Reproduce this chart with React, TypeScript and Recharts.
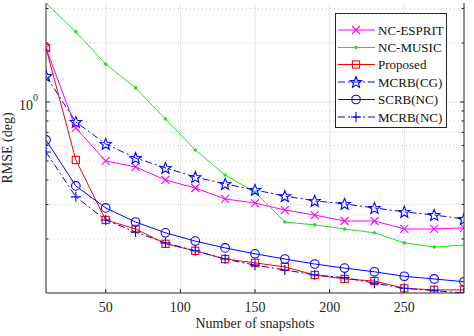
import React from "react";
import { LineChart, Line, XAxis, YAxis, CartesianGrid } from "recharts";

const snapshots = [10, 30, 50, 70, 90, 110, 130, 150, 170, 190, 210, 230, 250, 270, 290];
const ncEsprit = [1.886, 0.737, 0.5, 0.466, 0.4, 0.364, 0.32, 0.305, 0.281, 0.265, 0.247, 0.247, 0.225, 0.225, 0.228];
const ncMusic = [3.2, 2.28, 1.56, 1.18, 0.819, 0.569, 0.424, 0.347, 0.244, 0.236, 0.225, 0.215, 0.191, 0.182, 0.186];
const proposed = [1.886, 0.506, 0.25, 0.225, 0.189, 0.174, 0.158, 0.151, 0.144, 0.131, 0.125, 0.122, 0.112, 0.11, 0.11];
const mcrbCG = [1.357, 0.791, 0.611, 0.518, 0.461, 0.414, 0.382, 0.356, 0.331, 0.313, 0.302, 0.288, 0.275, 0.265, 0.253];
const scrbNC = [0.64, 0.373, 0.288, 0.244, 0.215, 0.195, 0.18, 0.168, 0.158, 0.149, 0.142, 0.136, 0.129, 0.125, 0.121];
const mcrbNC = [0.556, 0.328, 0.25, 0.217, 0.191, 0.174, 0.158, 0.147, 0.139, 0.131, 0.127, 0.119, 0.112, 0.109, 0.106];

const xTicks = [50, 100, 150, 200, 250];
const yMinorTicks = [0.2, 0.3, 0.4, 0.5, 0.6, 0.7, 0.8, 0.9, 2, 3];
const yMajorTicks = [1];
const yTicks = [0.2, 0.3, 0.4, 0.5, 0.6, 0.7, 0.8, 0.9, 1, 2, 3];
const yDomain = [0.106, 3.2];
const xDomain = [10, 290];

const seriesDefs = [
  { key: "esprit", name: "NC-ESPRIT", color: "#ff00ff", marker: "x", dash: undefined as string | undefined, values: ncEsprit },
  { key: "music", name: "NC-MUSIC", color: "#22e022", marker: "dot", dash: undefined, values: ncMusic },
  { key: "proposed", name: "Proposed", color: "#ff0000", marker: "square", dash: undefined, values: proposed },
  { key: "mcrbcg", name: "MCRB(CG)", color: "#0000ff", marker: "star", dash: "7 3 2 3", values: mcrbCG },
  { key: "scrbnc", name: "SCRB(NC)", color: "#0000ff", marker: "circle", dash: undefined, values: scrbNC },
  { key: "mcrbnc", name: "MCRB(NC)", color: "#0000ff", marker: "plus", dash: "7 3 2 3", values: mcrbNC },
];

const data = snapshots.map((n, i) => {
  const row: any = { n };
  seriesDefs.forEach((s) => (row[s.key] = s.values[i]));
  return row;
});

const FONT = "'Liberation Serif', 'Times New Roman', serif";
const AXIS = "#262626";

function starPath(cx: number, cy: number, R: number, r: number) {
  let d = "";
  for (let i = 0; i < 10; i++) {
    const rad = i % 2 === 0 ? R : r;
    const a = -Math.PI / 2 + (i * Math.PI) / 5;
    d += (i === 0 ? "M" : "L") + (cx + rad * Math.cos(a)).toFixed(2) + "," + (cy + rad * Math.sin(a)).toFixed(2);
  }
  return d + "Z";
}

function Marker({ type, cx, cy, color }: { type: string; cx: number; cy: number; color: string }) {
  if (cx == null || cy == null || isNaN(cx) || isNaN(cy)) return null;
  switch (type) {
    case "x":
      return <path d={`M${cx - 4},${cy - 4}L${cx + 4},${cy + 4}M${cx - 4},${cy + 4}L${cx + 4},${cy - 4}`} stroke={color} strokeWidth={1.1} fill="none" />;
    case "dot":
      return <circle cx={cx} cy={cy} r={1.8} fill={color} stroke="none" />;
    case "square":
      return <rect x={cx - 3.6} y={cy - 3.6} width={7.2} height={7.2} fill="none" stroke={color} strokeWidth={1.1} />;
    case "star":
      return <path d={starPath(cx, cy + 0.5, 6, 2.6)} fill="none" stroke={color} strokeWidth={1.1} />;
    case "circle":
      return <circle cx={cx} cy={cy} r={4.3} fill="none" stroke={color} strokeWidth={1.1} />;
    case "plus":
      return <path d={`M${cx - 5},${cy}L${cx + 5},${cy}M${cx},${cy - 5}L${cx},${cy + 5}`} stroke={color} strokeWidth={1.1} fill="none" />;
  }
  return null;
}

const makeDot = (type: string, color: string) => (props: any) => (
  <g key={`d-${type}-${props.index}`}>
    <Marker type={type} cx={props.cx} cy={props.cy} color={color} />
  </g>
);

const BottomTick = (props: any) => {
  const { x, y, payload } = props;
  return (
    <g>
      <line x1={x} x2={x} y1={y} y2={y - 4} stroke={AXIS} strokeWidth={1} />
      <text x={x} y={y + 19} textAnchor="middle" fontFamily={FONT} fontSize={14} fill="#262626">
        {payload.value}
      </text>
    </g>
  );
};

const TopTick = (props: any) => {
  const { x, y } = props;
  return <line x1={x} x2={x} y1={y} y2={y + 4} stroke={AXIS} strokeWidth={1} />;
};

const LeftTick = (props: any) => {
  const { x, y, payload } = props;
  const major = yMajorTicks.includes(payload.value);
  return (
    <g>
      <line x1={x} x2={x + (major ? 4 : 2.5)} y1={y} y2={y} stroke={AXIS} strokeWidth={1} />
      {major && (
        <text x={x - 13} y={y + 8} textAnchor="end" fontFamily={FONT} fontSize={14} fill="#262626">
          10
        </text>
      )}
      {major && (
        <text x={x - 13} y={y - 1} textAnchor="start" fontFamily={FONT} fontSize={10} fill="#262626">
          0
        </text>
      )}
    </g>
  );
};

const RightTick = (props: any) => {
  const { x, y, payload } = props;
  const major = yMajorTicks.includes(payload.value);
  return <line x1={x} x2={x - (major ? 4 : 2.5)} y1={y} y2={y} stroke={AXIS} strokeWidth={1} />;
};

function Legend() {
  const rows = [30, 47.5, 64.5, 82, 99.5, 117];
  return (
    <svg width={474} height={336} style={{ position: "absolute", left: 0, top: 0, pointerEvents: "none" }}>
      <rect x={335.5} y={13.5} width={111} height={114} fill="#ffffff" stroke={AXIS} strokeWidth={1} />
      {seriesDefs.map((s, i) => (
        <g key={s.key}>
          <line x1={338} x2={375} y1={rows[i]} y2={rows[i]} stroke={s.color} strokeWidth={1} strokeDasharray={s.dash} />
          <Marker type={s.marker} cx={356} cy={rows[i]} color={s.color} />
          <text x={378} y={rows[i]} dominantBaseline="central" fontFamily={FONT} fontSize={13} fill="#111">
            {s.name}
          </text>
        </g>
      ))}
    </svg>
  );
}

export default function App() {
  return (
    <div style={{ position: "absolute", left: 0, top: 0, width: 474, height: 336, background: "#fff" }}>
      <LineChart width={474} height={336} data={data} margin={{ top: 3, right: 0, bottom: 0, left: 0 }}>
        <CartesianGrid horizontalValues={yMinorTicks} vertical={false} stroke="#c8c8c8" strokeDasharray="1 3" />
        <CartesianGrid horizontalValues={yMajorTicks} verticalValues={xTicks} stroke="#e3e3e3" />
        <XAxis
          dataKey="n"
          type="number"
          domain={xDomain}
          ticks={xTicks}
          height={43}
          tickSize={0}
          tickMargin={0}
          tick={<BottomTick />}
          axisLine={{ stroke: AXIS }}
          allowDataOverflow
        />
        <XAxis
          xAxisId="t"
          orientation="top"
          dataKey="n"
          type="number"
          domain={xDomain}
          ticks={xTicks}
          height={0}
          tickSize={0}
          tickMargin={0}
          tick={<TopTick />}
          axisLine={{ stroke: AXIS }}
          allowDataOverflow
        />
        <YAxis
          type="number"
          scale="log"
          domain={yDomain}
          ticks={yTicks}
          width={46}
          tickSize={0}
          tickMargin={0}
          tick={<LeftTick />}
          axisLine={{ stroke: AXIS }}
          allowDataOverflow
          interval={0}
        />
        <YAxis
          yAxisId="r"
          orientation="right"
          type="number"
          scale="log"
          domain={yDomain}
          ticks={yTicks}
          width={10}
          tickSize={0}
          tickMargin={0}
          tick={<RightTick />}
          axisLine={{ stroke: AXIS }}
          allowDataOverflow
          interval={0}
        />
        {seriesDefs.map((s) => (
          <Line
            key={s.key}
            type="linear"
            dataKey={s.key}
            stroke={s.color}
            strokeWidth={1}
            strokeDasharray={s.dash}
            dot={makeDot(s.marker, s.color)}
            activeDot={false}
            isAnimationActive={false}
          />
        ))}
      </LineChart>
      <Legend />
      <svg width={474} height={336} style={{ position: "absolute", left: 0, top: 0, pointerEvents: "none" }}>
        <text x={255} y={328} textAnchor="middle" fontFamily={FONT} fontSize={14} fill="#262626">
          Number of snapshots
        </text>
        <text x={12} y={148} textAnchor="middle" fontFamily={FONT} fontSize={14} fill="#262626" transform="rotate(-90 12 148)">
          RMSE (deg)
        </text>
      </svg>
    </div>
  );
}
